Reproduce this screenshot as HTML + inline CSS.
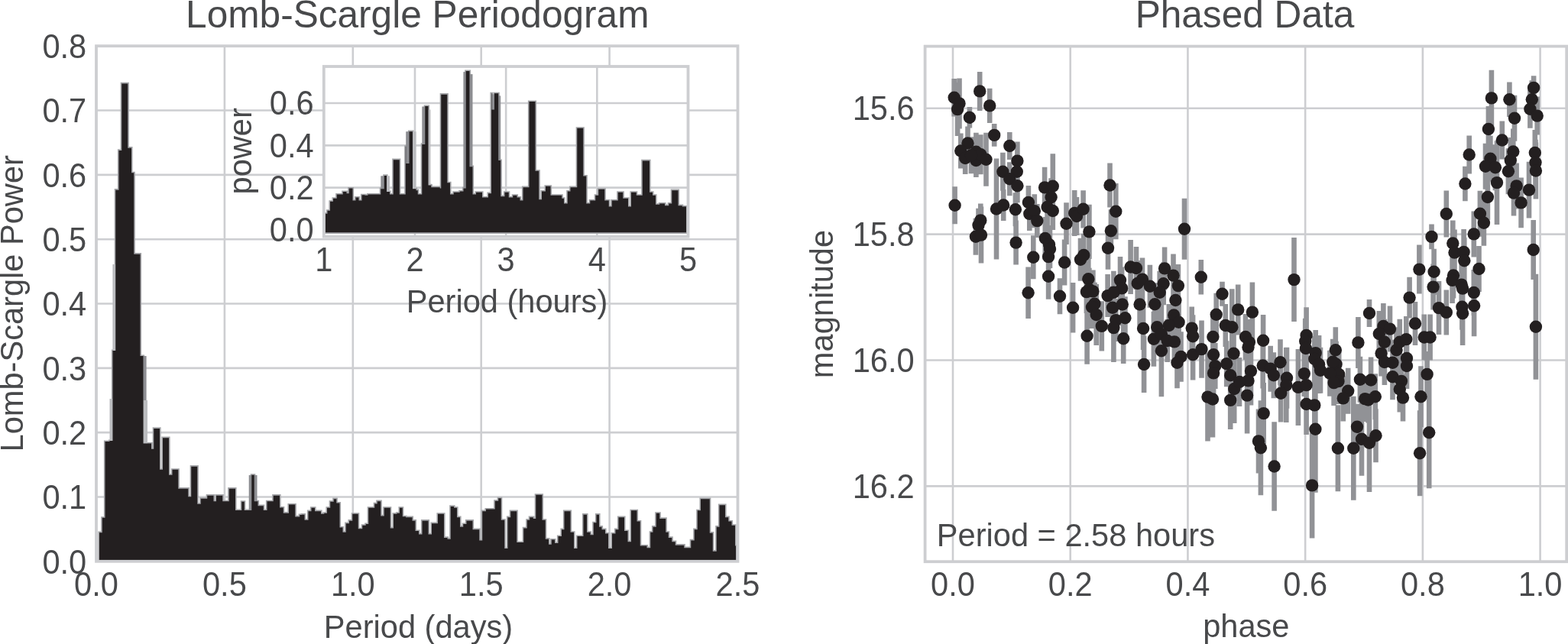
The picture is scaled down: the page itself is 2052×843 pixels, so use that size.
<!DOCTYPE html>
<html><head><meta charset="utf-8"><title>Lomb-Scargle Periodogram</title>
<style>html,body{margin:0;padding:0;background:#fff;overflow:hidden}svg{display:block}</style>
</head><body>
<svg width="2052" height="843" viewBox="0 0 2052 843">
<rect width="2052" height="843" fill="#fff"/>
<g font-family="&quot;Liberation Sans&quot;, Arial, Helvetica, sans-serif" fill="#48494b">
<path d="M293.90,60.20V734.80M461.80,60.20V734.80M629.70,60.20V734.80M797.60,60.20V734.80M126.00,650.47H965.50M126.00,566.15H965.50M126.00,481.83H965.50M126.00,397.50H965.50M126.00,313.18H965.50M126.00,228.85H965.50M126.00,144.53H965.50" stroke="#cdced1" stroke-width="2.6" fill="none"/>
<path d="M130.00,733.20L130.00,697.20L133.75,697.20L133.75,677.80L137.50,677.80L137.50,578.00L143.50,578.00L143.50,577.00L147.50,577.00L147.50,459.00L151.25,459.00L151.25,248.70L155.50,248.70L155.50,196.90L159.25,196.90L159.25,109.40L167.25,109.40L167.25,193.70L172.00,193.70L172.00,226.30L175.25,226.30L175.25,332.70L183.50,332.70L183.50,466.00L187.50,466.00L187.50,580.50L198.00,580.50L198.00,587.80L201.25,587.80L201.25,560.88L209.00,560.88L209.00,614.73L213.00,614.73L213.00,573.21L221.00,573.21L221.00,621.85L225.50,621.85L225.50,614.73L233.25,614.73L233.25,639.64L246.25,639.64L246.25,650.32L250.25,650.32L250.25,610.70L258.25,610.70L258.25,659.81L262.75,659.81L262.75,652.69L271.25,652.69L271.25,648.66L279.50,648.66L279.50,656.25L283.00,656.25L283.00,648.66L291.25,648.66L291.25,656.25L299.75,656.25L299.75,639.64L308.00,639.64L308.00,668.11L316.25,668.11L316.25,656.73L319.75,656.73L319.75,668.11L325.75,668.11L325.75,668.10L329.25,668.10L329.25,621.85L332.75,621.85L332.75,656.25L337.50,656.25L337.50,662.18L344.75,662.18L344.75,668.11L349.50,668.11L349.50,656.25L357.75,656.25L357.75,648.66L366.00,648.66L366.00,664.56L370.75,664.56L370.75,671.67L378.00,671.67L378.00,660.52L386.25,660.52L386.25,676.42L392.25,676.42L392.25,674.05L395.00,674.05L395.00,673.63L398.50,673.63L398.50,680.75L403.50,680.75L403.50,669.18L407.50,669.18L407.50,664.73L412.00,664.73L412.00,669.18L420.00,669.18L420.00,672.74L424.25,672.74L424.25,671.85L428.00,671.85L428.00,664.73L432.25,664.73L432.25,656.73L436.75,656.73L436.75,653.17L440.25,653.17L440.25,658.51L444.50,658.51L444.50,690.53L448.50,690.53L448.50,696.76L452.75,696.76L452.75,685.20L457.00,685.20L457.00,681.64L461.25,681.64L461.25,672.74L468.75,672.74L468.75,692.31L474.25,692.31L474.25,687.86L478.75,687.86L478.75,686.09L482.25,686.09L482.25,664.73L490.25,664.73L490.25,659.40L493.75,659.40L493.75,656.19L498.25,656.19L498.25,675.41L502.75,675.41L502.75,664.73L510.75,664.73L510.75,691.42L515.00,691.42L515.00,672.74L519.50,672.74L519.50,671.85L523.00,671.85L523.00,664.73L526.75,664.73L526.75,676.30L531.00,676.30L531.00,677.19L539.50,677.19L539.50,681.64L543.50,681.64L543.50,694.98L548.00,694.98L548.00,699.43L552.50,699.43L552.50,681.64L560.50,681.64L560.50,699.43L565.00,699.43L565.00,685.20L573.00,685.20L573.00,672.74L581.00,672.74L581.00,703.88L585.50,703.88L585.50,705.66L589.75,705.66L589.75,662.95L594.00,662.95L594.00,664.73L598.00,664.73L598.00,677.19L602.00,677.19L602.00,689.64L606.25,689.64L606.25,686.09L610.50,686.09L610.50,681.64L618.50,681.64L618.50,693.20L627.25,693.20L627.25,707.44L631.25,707.44L631.25,669.18L636.00,669.18L636.00,666.51L647.75,666.51L647.75,655.84L652.25,655.84L652.25,652.28L655.75,652.28L655.75,680.75L660.25,680.75L660.25,718.11L664.50,718.11L664.50,677.19L668.25,677.19L668.25,669.18L676.25,669.18L676.25,710.11L685.25,710.11L685.25,691.42L689.75,691.42L689.75,680.75L693.25,680.75L693.25,677.19L697.75,677.19L697.75,678.97L701.25,678.97L701.25,647.83L709.50,647.83L709.50,680.75L713.75,680.75L713.75,705.66L718.00,705.66L718.00,712.78L721.75,712.78L721.75,706.55L726.00,706.55L726.00,711.00L730.50,711.00L730.50,702.10L735.00,702.10L735.00,693.20L738.50,693.20L738.50,669.18L746.50,669.18L746.50,696.76L751.00,696.76L751.00,718.11L755.50,718.11L755.50,702.10L763.50,702.10L763.50,673.63L768.00,673.63L768.00,696.76L772.50,696.76L772.50,700.32L776.75,700.32L776.75,684.31L780.50,684.31L780.50,673.63L784.00,673.63L784.00,689.64L787.50,689.64L787.50,693.20L792.00,693.20L792.00,698.54L796.00,698.54L796.00,718.11L801.00,718.11L801.00,698.54L805.50,698.54L805.50,693.20L809.50,693.20L809.50,677.19L817.00,677.19L817.00,694.98L821.50,694.98L821.50,709.22L826.00,709.22L826.00,668.29L833.50,668.29L833.50,682.53L837.75,682.53L837.75,714.56L846.50,714.56L846.50,717.22L851.25,717.22L851.25,696.76L854.50,696.76L854.50,689.64L858.75,689.64L858.75,671.85L863.25,671.85L863.25,678.97L871.25,678.97L871.25,696.76L874.75,696.76L874.75,703.88L879.25,703.88L879.25,709.22L883.75,709.22L883.75,713.67L895.25,713.67L895.25,717.22L904.25,717.22L904.25,707.44L908.75,707.44L908.75,693.20L912.75,693.20L912.75,668.29L917.00,668.29L917.00,653.17L928.75,653.17L928.75,697.65L932.75,697.65L932.75,721.67L937.75,721.67L937.75,689.64L941.50,689.64L941.50,661.17L949.00,661.17L949.00,677.19L953.25,677.19L953.25,682.53L957.50,682.53L957.50,687.86L962.00,687.86L962.00,714.56L963.00,714.56L963.00,733.20Z" fill="none" stroke="#a4a5a8" stroke-width="3.2" stroke-linejoin="miter"/>
<rect x="325.70" y="622.00" width="3.60" height="46.10" fill="#8d8e92"/>
<rect x="332.90" y="622.00" width="3.60" height="34.20" fill="#8d8e92"/>
<rect x="147.40" y="346.00" width="3.90" height="113.00" fill="#bbbcbf"/>
<rect x="187.60" y="466.00" width="4.00" height="58.00" fill="#8d8e92"/>
<rect x="187.60" y="524.00" width="5.40" height="56.50" fill="#bbbcbf"/>
<rect x="143.50" y="522.00" width="3.90" height="55.00" fill="#bbbcbf"/>
<path d="M130.00,733.20L130.00,697.20L133.75,697.20L133.75,677.80L137.50,677.80L137.50,578.00L143.50,578.00L143.50,577.00L147.50,577.00L147.50,459.00L151.25,459.00L151.25,248.70L155.50,248.70L155.50,196.90L159.25,196.90L159.25,109.40L167.25,109.40L167.25,193.70L172.00,193.70L172.00,226.30L175.25,226.30L175.25,332.70L183.50,332.70L183.50,466.00L187.50,466.00L187.50,580.50L198.00,580.50L198.00,587.80L201.25,587.80L201.25,560.88L209.00,560.88L209.00,614.73L213.00,614.73L213.00,573.21L221.00,573.21L221.00,621.85L225.50,621.85L225.50,614.73L233.25,614.73L233.25,639.64L246.25,639.64L246.25,650.32L250.25,650.32L250.25,610.70L258.25,610.70L258.25,659.81L262.75,659.81L262.75,652.69L271.25,652.69L271.25,648.66L279.50,648.66L279.50,656.25L283.00,656.25L283.00,648.66L291.25,648.66L291.25,656.25L299.75,656.25L299.75,639.64L308.00,639.64L308.00,668.11L316.25,668.11L316.25,656.73L319.75,656.73L319.75,668.11L325.75,668.11L325.75,668.10L329.25,668.10L329.25,621.85L332.75,621.85L332.75,656.25L337.50,656.25L337.50,662.18L344.75,662.18L344.75,668.11L349.50,668.11L349.50,656.25L357.75,656.25L357.75,648.66L366.00,648.66L366.00,664.56L370.75,664.56L370.75,671.67L378.00,671.67L378.00,660.52L386.25,660.52L386.25,676.42L392.25,676.42L392.25,674.05L395.00,674.05L395.00,673.63L398.50,673.63L398.50,680.75L403.50,680.75L403.50,669.18L407.50,669.18L407.50,664.73L412.00,664.73L412.00,669.18L420.00,669.18L420.00,672.74L424.25,672.74L424.25,671.85L428.00,671.85L428.00,664.73L432.25,664.73L432.25,656.73L436.75,656.73L436.75,653.17L440.25,653.17L440.25,658.51L444.50,658.51L444.50,690.53L448.50,690.53L448.50,696.76L452.75,696.76L452.75,685.20L457.00,685.20L457.00,681.64L461.25,681.64L461.25,672.74L468.75,672.74L468.75,692.31L474.25,692.31L474.25,687.86L478.75,687.86L478.75,686.09L482.25,686.09L482.25,664.73L490.25,664.73L490.25,659.40L493.75,659.40L493.75,656.19L498.25,656.19L498.25,675.41L502.75,675.41L502.75,664.73L510.75,664.73L510.75,691.42L515.00,691.42L515.00,672.74L519.50,672.74L519.50,671.85L523.00,671.85L523.00,664.73L526.75,664.73L526.75,676.30L531.00,676.30L531.00,677.19L539.50,677.19L539.50,681.64L543.50,681.64L543.50,694.98L548.00,694.98L548.00,699.43L552.50,699.43L552.50,681.64L560.50,681.64L560.50,699.43L565.00,699.43L565.00,685.20L573.00,685.20L573.00,672.74L581.00,672.74L581.00,703.88L585.50,703.88L585.50,705.66L589.75,705.66L589.75,662.95L594.00,662.95L594.00,664.73L598.00,664.73L598.00,677.19L602.00,677.19L602.00,689.64L606.25,689.64L606.25,686.09L610.50,686.09L610.50,681.64L618.50,681.64L618.50,693.20L627.25,693.20L627.25,707.44L631.25,707.44L631.25,669.18L636.00,669.18L636.00,666.51L647.75,666.51L647.75,655.84L652.25,655.84L652.25,652.28L655.75,652.28L655.75,680.75L660.25,680.75L660.25,718.11L664.50,718.11L664.50,677.19L668.25,677.19L668.25,669.18L676.25,669.18L676.25,710.11L685.25,710.11L685.25,691.42L689.75,691.42L689.75,680.75L693.25,680.75L693.25,677.19L697.75,677.19L697.75,678.97L701.25,678.97L701.25,647.83L709.50,647.83L709.50,680.75L713.75,680.75L713.75,705.66L718.00,705.66L718.00,712.78L721.75,712.78L721.75,706.55L726.00,706.55L726.00,711.00L730.50,711.00L730.50,702.10L735.00,702.10L735.00,693.20L738.50,693.20L738.50,669.18L746.50,669.18L746.50,696.76L751.00,696.76L751.00,718.11L755.50,718.11L755.50,702.10L763.50,702.10L763.50,673.63L768.00,673.63L768.00,696.76L772.50,696.76L772.50,700.32L776.75,700.32L776.75,684.31L780.50,684.31L780.50,673.63L784.00,673.63L784.00,689.64L787.50,689.64L787.50,693.20L792.00,693.20L792.00,698.54L796.00,698.54L796.00,718.11L801.00,718.11L801.00,698.54L805.50,698.54L805.50,693.20L809.50,693.20L809.50,677.19L817.00,677.19L817.00,694.98L821.50,694.98L821.50,709.22L826.00,709.22L826.00,668.29L833.50,668.29L833.50,682.53L837.75,682.53L837.75,714.56L846.50,714.56L846.50,717.22L851.25,717.22L851.25,696.76L854.50,696.76L854.50,689.64L858.75,689.64L858.75,671.85L863.25,671.85L863.25,678.97L871.25,678.97L871.25,696.76L874.75,696.76L874.75,703.88L879.25,703.88L879.25,709.22L883.75,709.22L883.75,713.67L895.25,713.67L895.25,717.22L904.25,717.22L904.25,707.44L908.75,707.44L908.75,693.20L912.75,693.20L912.75,668.29L917.00,668.29L917.00,653.17L928.75,653.17L928.75,697.65L932.75,697.65L932.75,721.67L937.75,721.67L937.75,689.64L941.50,689.64L941.50,661.17L949.00,661.17L949.00,677.19L953.25,677.19L953.25,682.53L957.50,682.53L957.50,687.86L962.00,687.86L962.00,714.56L963.00,714.56L963.00,733.20Z" fill="#231f20"/>
<rect x="126.00" y="60.20" width="839.50" height="674.60" fill="none" stroke="#cdced1" stroke-width="3.8"/>
<text transform="translate(126.00 780.20) scale(1 1.05)" font-size="41.6" text-anchor="middle">0.0</text>
<text transform="translate(293.90 780.20) scale(1 1.05)" font-size="41.6" text-anchor="middle">0.5</text>
<text transform="translate(461.80 780.20) scale(1 1.05)" font-size="41.6" text-anchor="middle">1.0</text>
<text transform="translate(629.70 780.20) scale(1 1.05)" font-size="41.6" text-anchor="middle">1.5</text>
<text transform="translate(797.60 780.20) scale(1 1.05)" font-size="41.6" text-anchor="middle">2.0</text>
<text transform="translate(965.50 780.20) scale(1 1.05)" font-size="41.6" text-anchor="middle">2.5</text>
<text transform="translate(113.20 750.50) scale(1 1.05)" font-size="41.6" text-anchor="end">0.0</text>
<text transform="translate(113.20 666.17) scale(1 1.05)" font-size="41.6" text-anchor="end">0.1</text>
<text transform="translate(113.20 581.85) scale(1 1.05)" font-size="41.6" text-anchor="end">0.2</text>
<text transform="translate(113.20 497.53) scale(1 1.05)" font-size="41.6" text-anchor="end">0.3</text>
<text transform="translate(113.20 413.20) scale(1 1.05)" font-size="41.6" text-anchor="end">0.4</text>
<text transform="translate(113.20 328.88) scale(1 1.05)" font-size="41.6" text-anchor="end">0.5</text>
<text transform="translate(113.20 244.55) scale(1 1.05)" font-size="41.6" text-anchor="end">0.6</text>
<text transform="translate(113.20 160.23) scale(1 1.05)" font-size="41.6" text-anchor="end">0.7</text>
<text transform="translate(113.20 75.90) scale(1 1.05)" font-size="41.6" text-anchor="end">0.8</text>
<text x="547.50" y="834.60" font-size="41.6" text-anchor="middle">Period (days)</text>
<text x="30.20" y="397.30" font-size="41.6" text-anchor="middle" transform="rotate(-90 30.20 397.30)">Lomb-Scargle Power</text>
<text x="546.30" y="36.20" font-size="49.6" text-anchor="middle">Lomb-Scargle Periodogram</text>
<rect x="423.80" y="87.00" width="476.70" height="222.70" fill="#fff"/>
<path d="M542.98,87.00V309.70M662.15,87.00V309.70M781.33,87.00V309.70M423.80,245.67H900.50M423.80,190.33H900.50M423.80,135.00H900.50" stroke="#cdced1" stroke-width="2.6" fill="none"/>
<path d="M426.00,304.30L426.00,279.87L428.50,279.87L428.50,275.87L432.00,275.87L432.00,263.86L436.00,263.86L436.00,259.85L440.75,259.85L440.75,254.51L448.75,254.51L448.75,251.04L453.50,251.04L453.50,253.18L456.75,253.18L456.75,246.51L461.50,246.51L461.50,262.52L465.50,262.52L465.50,258.52L469.50,258.52L469.50,262.52L473.50,262.52L473.50,255.32L477.50,255.32L477.50,255.85L481.50,255.85L481.50,254.51L498.25,254.51L498.25,247.20L502.75,247.20L502.75,229.90L506.00,229.90L506.00,251.10L510.00,251.10L510.00,254.51L514.75,254.51L514.75,209.13L522.75,209.13L522.75,254.51L530.75,254.51L530.75,191.78L531.25,191.78L531.25,214.00L535.50,214.00L535.50,172.20L540.00,172.20L540.00,247.20L544.50,247.20L544.50,249.18L546.75,249.18L546.75,254.51L552.25,254.51L552.25,188.90L556.25,188.90L556.25,139.10L560.50,139.10L560.50,242.40L563.50,242.40L563.50,242.50L564.25,242.50L564.25,245.17L575.75,245.17L575.75,246.51L577.25,246.51L577.25,123.71L585.25,123.71L585.25,239.30L589.00,239.30L589.00,254.51L593.75,254.51L593.75,251.84L601.75,251.84L601.75,250.51L606.50,250.51L606.50,246.40L609.75,246.40L609.75,93.10L614.50,93.10L614.50,218.20L618.50,218.20L618.50,254.51L623.00,254.51L623.00,251.84L631.00,251.84L631.00,258.52L639.00,258.52L639.00,253.18L643.00,253.18L643.00,122.37L643.50,122.37L643.50,143.50L647.00,143.50L647.00,122.30L652.25,122.30L652.25,210.10L655.25,210.10L655.25,257.18L660.50,257.18L660.50,251.84L665.75,251.84L665.75,258.52L671.25,258.52L671.25,255.85L676.50,255.85L676.50,258.52L680.50,258.52L680.50,262.52L684.50,262.52L684.50,245.17L692.50,245.17L692.50,133.05L700.50,133.05L700.50,223.81L705.25,223.81L705.25,261.19L709.00,261.19L709.00,250.51L714.00,250.51L714.00,243.84L720.50,243.84L720.50,255.85L735.25,255.85L735.25,259.85L738.00,259.85L738.00,266.53L742.75,266.53L742.75,250.51L746.50,250.51L746.50,245.17L755.25,245.17L755.25,167.75L763.25,167.75L763.25,230.49L767.25,230.49L767.25,266.53L772.25,266.53L772.25,262.52L779.25,262.52L779.25,255.85L783.25,255.85L783.25,247.84L791.25,247.84L791.25,262.52L796.75,262.52L796.75,270.53L800.75,270.53L800.75,262.52L808.75,262.52L808.75,251.84L815.25,251.84L815.25,259.85L822.00,259.85L822.00,270.53L826.00,270.53L826.00,251.84L832.75,251.84L832.75,255.85L840.75,255.85L840.75,210.47L850.00,210.47L850.00,251.84L854.00,251.84L854.00,255.85L858.00,255.85L858.00,267.86L863.25,267.86L863.25,266.53L870.00,266.53L870.00,269.20L875.25,269.20L875.25,266.53L879.25,266.53L879.25,249.18L887.50,249.18L887.50,269.20L892.75,269.20L892.75,270.53L898.00,270.53L898.00,304.30Z" fill="none" stroke="#a4a5a8" stroke-width="3.2" stroke-linejoin="miter"/>
<rect x="498.30" y="230.30" width="4.50" height="16.90" fill="#8d8e92"/>
<rect x="506.10" y="230.30" width="3.90" height="20.80" fill="#bbbcbf"/>
<rect x="531.20" y="172.20" width="4.30" height="41.80" fill="#8d8e92"/>
<rect x="540.00" y="172.20" width="4.60" height="75.00" fill="#bbbcbf"/>
<rect x="552.30" y="139.50" width="4.00" height="49.40" fill="#8d8e92"/>
<rect x="560.40" y="143.50" width="3.00" height="98.90" fill="#bbbcbf"/>
<rect x="606.40" y="94.10" width="3.40" height="152.30" fill="#8d8e92"/>
<rect x="614.40" y="97.10" width="4.10" height="121.10" fill="#8d8e92"/>
<rect x="643.50" y="123.30" width="3.60" height="20.20" fill="#8d8e92"/>
<rect x="652.20" y="125.40" width="3.00" height="84.70" fill="#8d8e92"/>
<path d="M426.00,304.30L426.00,279.87L428.50,279.87L428.50,275.87L432.00,275.87L432.00,263.86L436.00,263.86L436.00,259.85L440.75,259.85L440.75,254.51L448.75,254.51L448.75,251.04L453.50,251.04L453.50,253.18L456.75,253.18L456.75,246.51L461.50,246.51L461.50,262.52L465.50,262.52L465.50,258.52L469.50,258.52L469.50,262.52L473.50,262.52L473.50,255.32L477.50,255.32L477.50,255.85L481.50,255.85L481.50,254.51L498.25,254.51L498.25,247.20L502.75,247.20L502.75,229.90L506.00,229.90L506.00,251.10L510.00,251.10L510.00,254.51L514.75,254.51L514.75,209.13L522.75,209.13L522.75,254.51L530.75,254.51L530.75,191.78L531.25,191.78L531.25,214.00L535.50,214.00L535.50,172.20L540.00,172.20L540.00,247.20L544.50,247.20L544.50,249.18L546.75,249.18L546.75,254.51L552.25,254.51L552.25,188.90L556.25,188.90L556.25,139.10L560.50,139.10L560.50,242.40L563.50,242.40L563.50,242.50L564.25,242.50L564.25,245.17L575.75,245.17L575.75,246.51L577.25,246.51L577.25,123.71L585.25,123.71L585.25,239.30L589.00,239.30L589.00,254.51L593.75,254.51L593.75,251.84L601.75,251.84L601.75,250.51L606.50,250.51L606.50,246.40L609.75,246.40L609.75,93.10L614.50,93.10L614.50,218.20L618.50,218.20L618.50,254.51L623.00,254.51L623.00,251.84L631.00,251.84L631.00,258.52L639.00,258.52L639.00,253.18L643.00,253.18L643.00,122.37L643.50,122.37L643.50,143.50L647.00,143.50L647.00,122.30L652.25,122.30L652.25,210.10L655.25,210.10L655.25,257.18L660.50,257.18L660.50,251.84L665.75,251.84L665.75,258.52L671.25,258.52L671.25,255.85L676.50,255.85L676.50,258.52L680.50,258.52L680.50,262.52L684.50,262.52L684.50,245.17L692.50,245.17L692.50,133.05L700.50,133.05L700.50,223.81L705.25,223.81L705.25,261.19L709.00,261.19L709.00,250.51L714.00,250.51L714.00,243.84L720.50,243.84L720.50,255.85L735.25,255.85L735.25,259.85L738.00,259.85L738.00,266.53L742.75,266.53L742.75,250.51L746.50,250.51L746.50,245.17L755.25,245.17L755.25,167.75L763.25,167.75L763.25,230.49L767.25,230.49L767.25,266.53L772.25,266.53L772.25,262.52L779.25,262.52L779.25,255.85L783.25,255.85L783.25,247.84L791.25,247.84L791.25,262.52L796.75,262.52L796.75,270.53L800.75,270.53L800.75,262.52L808.75,262.52L808.75,251.84L815.25,251.84L815.25,259.85L822.00,259.85L822.00,270.53L826.00,270.53L826.00,251.84L832.75,251.84L832.75,255.85L840.75,255.85L840.75,210.47L850.00,210.47L850.00,251.84L854.00,251.84L854.00,255.85L858.00,255.85L858.00,267.86L863.25,267.86L863.25,266.53L870.00,266.53L870.00,269.20L875.25,269.20L875.25,266.53L879.25,266.53L879.25,249.18L887.50,249.18L887.50,269.20L892.75,269.20L892.75,270.53L898.00,270.53L898.00,304.30Z" fill="#231f20"/>
<rect x="423.80" y="87.00" width="476.70" height="222.70" fill="none" stroke="#cdced1" stroke-width="3.8"/>
<text transform="translate(423.80 355.40) scale(1 1.05)" font-size="41.6" text-anchor="middle">1</text>
<text transform="translate(542.98 355.40) scale(1 1.05)" font-size="41.6" text-anchor="middle">2</text>
<text transform="translate(662.15 355.40) scale(1 1.05)" font-size="41.6" text-anchor="middle">3</text>
<text transform="translate(781.33 355.40) scale(1 1.05)" font-size="41.6" text-anchor="middle">4</text>
<text transform="translate(900.50 355.40) scale(1 1.05)" font-size="41.6" text-anchor="middle">5</text>
<text transform="translate(410.60 316.40) scale(1 1.05)" font-size="41.6" text-anchor="end">0.0</text>
<text transform="translate(410.60 261.07) scale(1 1.05)" font-size="41.6" text-anchor="end">0.2</text>
<text transform="translate(410.60 205.73) scale(1 1.05)" font-size="41.6" text-anchor="end">0.4</text>
<text transform="translate(410.60 150.40) scale(1 1.05)" font-size="41.6" text-anchor="end">0.6</text>
<text x="663.50" y="409.30" font-size="41.6" text-anchor="middle">Period (hours)</text>
<text x="329.40" y="197.80" font-size="41.6" text-anchor="middle" transform="rotate(-90 329.40 197.80)">power</text>
<path d="M1247.00,60.60V735.20M1400.72,60.60V735.20M1554.44,60.60V735.20M1708.16,60.60V735.20M1861.88,60.60V735.20M2015.60,60.60V735.20M1210.60,141.80H2050.20M1210.60,306.67H2050.20M1210.60,471.53H2050.20M1210.60,636.40H2050.20" stroke="#cdced1" stroke-width="2.6" fill="none"/>
<path d="M1248.7,103.0V152.4M1255.5,102.4V168.4M1253.1,108.1V178.1M1282.2,93.9V144.9M1295.2,115.8V161.0M1268.9,140.1V167.5M1301.2,162.1V191.7M1266.5,165.5V209.5M1257.3,174.5V220.5M1263.2,186.0V228.0M1277.4,173.7V223.7M1277.4,188.0V232.0M1283.4,176.3V228.3M1290.5,173.8V243.8M1321.3,173.0V209.0M1331.4,185.6V235.6M1312.4,199.8V249.8M1330.8,202.8V246.8M1321.3,212.3V256.3M1331.4,221.2V265.2M1249.6,244.2V293.2M1283.3,266.4V310.4M1280.5,272.8V316.8M1276.9,285.8V333.8M1284.0,270.6V344.6M1304.0,207.5V339.5M1313.2,247.9V289.1M1328.9,252.2V296.2M1329.6,288.6V346.6M1345.9,243.0V287.0M1347.3,257.9V301.9M1353.8,254.3V298.3M1357.3,267.1V311.1M1352.3,308.3V365.3M1345.6,349.5V416.9M1367.1,218.8V272.0M1377.8,201.3V286.1M1375.6,233.2V283.2M1370.6,246.0V296.0M1377.8,251.0V301.0M1452.5,213.5V271.5M1460.3,240.1V313.3M1406.2,249.0V309.0M1409.0,258.0V308.0M1417.6,249.2V298.4M1395.5,265.3V320.1M1425.4,267.8V339.0M1453.9,274.3V330.3M1450.0,296.8V352.8M1367.8,284.0V340.0M1373.0,295.0V345.0M1374.0,301.0V351.0M1372.1,308.1V364.1M1393.1,313.5V373.5M1414.0,311.7V367.7M1418.3,306.0V362.0M1372.1,331.7V391.7M1424.3,337.3V393.3M1425.4,350.8V406.8M1466.0,336.0V397.4M1468.1,349.4V405.4M1479.6,314.1V384.9M1487.0,323.0V379.0M1488.7,341.0V401.0M1387.0,364.3V411.3M1404.1,369.9V435.5M1421.9,354.1V410.1M1430.4,353.4V409.4M1432.5,369.8V425.8M1429.0,374.0V430.0M1434.7,372.0V452.0M1441.8,394.2V459.6M1422.6,402.7V476.7M1449.6,359.1V415.1M1457.4,354.8V410.8M1456.0,374.7V430.7M1468.8,370.5V426.5M1460.3,391.1V447.1M1472.4,388.3V444.3M1457.4,384.1V474.1M1470.2,410.6V476.0M1550.0,259.7V339.7M1495.0,337.6V393.6M1504.9,346.8V402.8M1524.1,323.4V379.4M1535.5,332.6V388.6M1522.7,343.3V399.3M1517.7,354.7V410.7M1541.9,346.1V402.1M1571.8,339.9V385.5M1599.5,368.8V400.8M1491.6,370.5V426.5M1511.3,370.3V426.3M1538.4,365.0V421.0M1536.2,384.5V440.5M1542.6,393.8V449.8M1529.8,398.0V454.0M1514.2,400.2V456.2M1496.1,402.0V458.0M1509.9,407.8V479.8M1519.9,409.4V465.4M1527.7,418.0V474.0M1536.9,419.4V475.4M1559.7,401.6V457.6M1561.1,412.3V468.3M1587.4,413.0V469.0M1591.7,383.8V439.8M1603.8,398.0V454.0M1612.3,378.2V478.2M1620.2,372.4V438.4M1497.1,440.0V514.0M1519.9,399.2V519.2M1545.5,434.3V499.7M1540.5,441.3V508.3M1561.1,430.8V497.6M1572.5,419.4V494.8M1588.1,434.2V494.2M1590.3,449.1V509.1M1588.1,458.4V518.4M1605.2,446.3V506.3M1614.5,432.7V492.7M1610.2,461.2V521.2M1615.2,464.0V554.0M1580.5,461.6V577.6M1587.0,472.5V572.5M1610.2,485.9V561.9M1693.5,311.1V421.1M1638.9,369.6V447.6M1630.0,411.0V471.0M1634.9,418.1V478.1M1633.5,424.5V484.5M1653.1,412.1V479.3M1709.6,402.2V475.6M1708.2,416.7V476.7M1708.9,426.0V486.0M1637.0,440.6V530.6M1633.5,468.4V528.4M1622.0,468.0V532.0M1632.1,467.6V567.6M1652.7,448.5V508.5M1662.7,452.7V512.7M1666.9,461.3V521.3M1675.5,444.2V504.2M1684.0,454.8V534.8M1683.3,455.1V553.1M1676.2,477.1V552.5M1698.9,456.9V556.9M1706.8,459.1V519.1M1709.6,474.1V534.1M1721.7,432.1V492.1M1720.3,439.9V499.9M1726.1,439.0V515.0M1709.6,489.0V569.0M1720.3,490.4V570.4M1653.7,501.1V581.1M1721.4,478.7V644.7M1647.0,535.4V619.4M1649.9,524.3V648.3M1667.6,552.2V668.8M1717.1,566.2V704.6M1750.9,530.2V643.2M1873.5,293.6V326.2M1857.4,320.6V384.6M1876.6,325.7V385.7M1875.6,345.6V405.6M1844.6,362.8V416.4M1792.0,392.0V428.0M1777.4,414.9V481.9M1747.8,428.3V488.3M1748.6,446.8V506.8M1752.2,460.0V520.0M1751.5,469.1V529.1M1810.4,397.0V457.0M1819.0,400.6V460.6M1804.8,407.0V467.0M1811.9,417.7V477.7M1807.6,432.6V492.6M1811.9,444.0V504.0M1822.5,444.7V504.7M1827.5,428.3V488.3M1831.8,417.7V477.7M1840.3,414.1V474.1M1841.0,439.0V499.0M1841.0,449.0V509.0M1822.5,463.2V523.2M1833.9,468.9V528.9M1831.8,479.5V539.5M1852.0,395.1V451.9M1863.8,411.5V471.5M1871.6,411.5V471.5M1867.6,459.9V519.9M1779.9,466.7V526.7M1794.1,467.5V527.5M1883.0,368.1V438.1M1764.2,481.7V541.7M1757.8,491.4V551.4M1786.3,492.1V552.1M1790.5,493.5V553.5M1799.8,489.2V549.2M1836.0,489.6V551.6M1859.5,479.2V559.2M1776.0,528.8V588.8M1782.0,526.7V622.7M1792.0,515.3V644.1M1800.5,535.2V605.2M1771.3,518.8V654.8M1870.2,493.2V639.2M1858.1,537.2V649.2M1951.9,91.8V165.0M1975.4,107.5V153.1M2007.1,99.2V130.6M2004.8,105.3V155.3M2002.4,117.7V167.7M2011.7,126.6V176.6M1982.0,124.8V184.8M1947.9,139.0V199.0M1965.8,158.5V208.5M1922.7,177.5V227.5M1917.4,217.7V263.3M1892.8,249.5V310.5M1950.4,177.8V237.8M1944.0,187.8V247.8M1956.9,189.2V249.2M1980.3,168.5V228.5M1976.8,179.9V239.9M1973.9,194.2V254.2M1959.0,184.3V293.9M1946.9,228.0V288.0M1936.9,249.7V309.7M1941.9,261.8V321.8M1984.6,213.4V273.4M1981.0,222.6V282.6M1990.6,232.6V298.2M2001.0,211.8V285.4M2008.8,170.0V230.0M2009.5,182.8V242.8M2009.9,186.5V260.5M1928.8,276.4V336.4M1901.3,288.5V348.5M1903.5,300.6V360.6M1915.6,299.9V359.9M1916.3,311.3V371.3M1935.5,322.0V382.0M2006.7,288.0V366.0M1902.0,330.5V390.5M1900.6,336.9V396.9M1912.7,342.6V402.6M1914.1,347.6V407.6M1928.8,353.0V413.0M1892.8,379.4V438.4M1913.4,371.8V431.8M1929.1,360.3V440.3M1914.1,368.6V452.0M2009.9,358.8V496.8M1728.0,454.8V514.8M1744.3,443.7V503.7M1740.4,458.7V518.7M1745.6,471.1V531.1M1271.0,179.3V227.3" stroke="#919296" stroke-width="6.6" fill="none"/>
<g fill="#231f20">
<circle cx="1248.7" cy="127.7" r="8.2"/>
<circle cx="1255.5" cy="135.4" r="8.2"/>
<circle cx="1253.1" cy="143.1" r="8.2"/>
<circle cx="1282.2" cy="119.4" r="8.2"/>
<circle cx="1295.2" cy="138.4" r="8.2"/>
<circle cx="1268.9" cy="153.8" r="8.2"/>
<circle cx="1301.2" cy="176.9" r="8.2"/>
<circle cx="1266.5" cy="187.5" r="8.2"/>
<circle cx="1257.3" cy="197.5" r="8.2"/>
<circle cx="1263.2" cy="207.0" r="8.2"/>
<circle cx="1277.4" cy="198.7" r="8.2"/>
<circle cx="1277.4" cy="210.0" r="8.2"/>
<circle cx="1283.4" cy="202.3" r="8.2"/>
<circle cx="1290.5" cy="208.8" r="8.2"/>
<circle cx="1321.3" cy="191.0" r="8.2"/>
<circle cx="1331.4" cy="210.6" r="8.2"/>
<circle cx="1312.4" cy="224.8" r="8.2"/>
<circle cx="1330.8" cy="224.8" r="8.2"/>
<circle cx="1321.3" cy="234.3" r="8.2"/>
<circle cx="1331.4" cy="243.2" r="8.2"/>
<circle cx="1249.6" cy="268.7" r="8.2"/>
<circle cx="1283.3" cy="288.4" r="8.2"/>
<circle cx="1280.5" cy="294.8" r="8.2"/>
<circle cx="1276.9" cy="309.8" r="8.2"/>
<circle cx="1284.0" cy="307.6" r="8.2"/>
<circle cx="1304.0" cy="273.5" r="8.2"/>
<circle cx="1313.2" cy="268.5" r="8.2"/>
<circle cx="1328.9" cy="274.2" r="8.2"/>
<circle cx="1329.6" cy="317.6" r="8.2"/>
<circle cx="1345.9" cy="265.0" r="8.2"/>
<circle cx="1347.3" cy="279.9" r="8.2"/>
<circle cx="1353.8" cy="276.3" r="8.2"/>
<circle cx="1357.3" cy="289.1" r="8.2"/>
<circle cx="1352.3" cy="336.8" r="8.2"/>
<circle cx="1345.6" cy="383.2" r="8.2"/>
<circle cx="1367.1" cy="245.4" r="8.2"/>
<circle cx="1377.8" cy="243.7" r="8.2"/>
<circle cx="1375.6" cy="258.2" r="8.2"/>
<circle cx="1370.6" cy="271.0" r="8.2"/>
<circle cx="1377.8" cy="276.0" r="8.2"/>
<circle cx="1452.5" cy="242.5" r="8.2"/>
<circle cx="1460.3" cy="276.7" r="8.2"/>
<circle cx="1406.2" cy="279.0" r="8.2"/>
<circle cx="1409.0" cy="283.0" r="8.2"/>
<circle cx="1417.6" cy="273.8" r="8.2"/>
<circle cx="1395.5" cy="292.7" r="8.2"/>
<circle cx="1425.4" cy="303.4" r="8.2"/>
<circle cx="1453.9" cy="302.3" r="8.2"/>
<circle cx="1450.0" cy="324.8" r="8.2"/>
<circle cx="1367.8" cy="312.0" r="8.2"/>
<circle cx="1373.0" cy="320.0" r="8.2"/>
<circle cx="1374.0" cy="326.0" r="8.2"/>
<circle cx="1372.1" cy="336.1" r="8.2"/>
<circle cx="1393.1" cy="343.5" r="8.2"/>
<circle cx="1414.0" cy="339.7" r="8.2"/>
<circle cx="1418.3" cy="334.0" r="8.2"/>
<circle cx="1372.1" cy="361.7" r="8.2"/>
<circle cx="1424.3" cy="365.3" r="8.2"/>
<circle cx="1425.4" cy="378.8" r="8.2"/>
<circle cx="1466.0" cy="366.7" r="8.2"/>
<circle cx="1468.1" cy="377.4" r="8.2"/>
<circle cx="1479.6" cy="349.5" r="8.2"/>
<circle cx="1487.0" cy="351.0" r="8.2"/>
<circle cx="1488.7" cy="371.0" r="8.2"/>
<circle cx="1387.0" cy="387.8" r="8.2"/>
<circle cx="1404.1" cy="402.7" r="8.2"/>
<circle cx="1421.9" cy="382.1" r="8.2"/>
<circle cx="1430.4" cy="381.4" r="8.2"/>
<circle cx="1432.5" cy="397.8" r="8.2"/>
<circle cx="1429.0" cy="402.0" r="8.2"/>
<circle cx="1434.7" cy="412.0" r="8.2"/>
<circle cx="1441.8" cy="426.9" r="8.2"/>
<circle cx="1422.6" cy="439.7" r="8.2"/>
<circle cx="1449.6" cy="387.1" r="8.2"/>
<circle cx="1457.4" cy="382.8" r="8.2"/>
<circle cx="1456.0" cy="402.7" r="8.2"/>
<circle cx="1468.8" cy="398.5" r="8.2"/>
<circle cx="1460.3" cy="419.1" r="8.2"/>
<circle cx="1472.4" cy="416.3" r="8.2"/>
<circle cx="1457.4" cy="429.1" r="8.2"/>
<circle cx="1470.2" cy="443.3" r="8.2"/>
<circle cx="1550.0" cy="299.7" r="8.2"/>
<circle cx="1495.0" cy="365.6" r="8.2"/>
<circle cx="1504.9" cy="374.8" r="8.2"/>
<circle cx="1524.1" cy="351.4" r="8.2"/>
<circle cx="1535.5" cy="360.6" r="8.2"/>
<circle cx="1522.7" cy="371.3" r="8.2"/>
<circle cx="1517.7" cy="382.7" r="8.2"/>
<circle cx="1541.9" cy="374.1" r="8.2"/>
<circle cx="1571.8" cy="362.7" r="8.2"/>
<circle cx="1599.5" cy="384.8" r="8.2"/>
<circle cx="1491.6" cy="398.5" r="8.2"/>
<circle cx="1511.3" cy="398.3" r="8.2"/>
<circle cx="1538.4" cy="393.0" r="8.2"/>
<circle cx="1536.2" cy="412.5" r="8.2"/>
<circle cx="1542.6" cy="421.8" r="8.2"/>
<circle cx="1529.8" cy="426.0" r="8.2"/>
<circle cx="1514.2" cy="428.2" r="8.2"/>
<circle cx="1496.1" cy="430.0" r="8.2"/>
<circle cx="1509.9" cy="443.8" r="8.2"/>
<circle cx="1519.9" cy="437.4" r="8.2"/>
<circle cx="1527.7" cy="446.0" r="8.2"/>
<circle cx="1536.9" cy="447.4" r="8.2"/>
<circle cx="1559.7" cy="429.6" r="8.2"/>
<circle cx="1561.1" cy="440.3" r="8.2"/>
<circle cx="1587.4" cy="441.0" r="8.2"/>
<circle cx="1591.7" cy="411.8" r="8.2"/>
<circle cx="1603.8" cy="426.0" r="8.2"/>
<circle cx="1612.3" cy="428.2" r="8.2"/>
<circle cx="1620.2" cy="405.4" r="8.2"/>
<circle cx="1497.1" cy="477.0" r="8.2"/>
<circle cx="1519.9" cy="459.2" r="8.2"/>
<circle cx="1545.5" cy="467.0" r="8.2"/>
<circle cx="1540.5" cy="474.8" r="8.2"/>
<circle cx="1561.1" cy="464.2" r="8.2"/>
<circle cx="1572.5" cy="457.1" r="8.2"/>
<circle cx="1588.1" cy="464.2" r="8.2"/>
<circle cx="1590.3" cy="479.1" r="8.2"/>
<circle cx="1588.1" cy="488.4" r="8.2"/>
<circle cx="1605.2" cy="476.3" r="8.2"/>
<circle cx="1614.5" cy="462.7" r="8.2"/>
<circle cx="1610.2" cy="491.2" r="8.2"/>
<circle cx="1615.2" cy="509.0" r="8.2"/>
<circle cx="1580.5" cy="519.6" r="8.2"/>
<circle cx="1587.0" cy="522.5" r="8.2"/>
<circle cx="1610.2" cy="523.9" r="8.2"/>
<circle cx="1693.5" cy="366.1" r="8.2"/>
<circle cx="1638.9" cy="408.6" r="8.2"/>
<circle cx="1630.0" cy="441.0" r="8.2"/>
<circle cx="1634.9" cy="448.1" r="8.2"/>
<circle cx="1633.5" cy="454.5" r="8.2"/>
<circle cx="1653.1" cy="445.7" r="8.2"/>
<circle cx="1709.6" cy="438.9" r="8.2"/>
<circle cx="1708.2" cy="446.7" r="8.2"/>
<circle cx="1708.9" cy="456.0" r="8.2"/>
<circle cx="1637.0" cy="485.6" r="8.2"/>
<circle cx="1633.5" cy="498.4" r="8.2"/>
<circle cx="1622.0" cy="500.0" r="8.2"/>
<circle cx="1632.1" cy="517.6" r="8.2"/>
<circle cx="1652.7" cy="478.5" r="8.2"/>
<circle cx="1662.7" cy="482.7" r="8.2"/>
<circle cx="1666.9" cy="491.3" r="8.2"/>
<circle cx="1675.5" cy="474.2" r="8.2"/>
<circle cx="1684.0" cy="494.8" r="8.2"/>
<circle cx="1683.3" cy="504.1" r="8.2"/>
<circle cx="1676.2" cy="514.8" r="8.2"/>
<circle cx="1698.9" cy="506.9" r="8.2"/>
<circle cx="1706.8" cy="489.1" r="8.2"/>
<circle cx="1709.6" cy="504.1" r="8.2"/>
<circle cx="1721.7" cy="462.1" r="8.2"/>
<circle cx="1720.3" cy="469.9" r="8.2"/>
<circle cx="1726.1" cy="477.0" r="8.2"/>
<circle cx="1709.6" cy="529.0" r="8.2"/>
<circle cx="1720.3" cy="530.4" r="8.2"/>
<circle cx="1653.7" cy="541.1" r="8.2"/>
<circle cx="1721.4" cy="561.7" r="8.2"/>
<circle cx="1647.0" cy="577.4" r="8.2"/>
<circle cx="1649.9" cy="586.3" r="8.2"/>
<circle cx="1667.6" cy="610.5" r="8.2"/>
<circle cx="1717.1" cy="635.4" r="8.2"/>
<circle cx="1750.9" cy="586.7" r="8.2"/>
<circle cx="1873.5" cy="309.9" r="8.2"/>
<circle cx="1857.4" cy="352.6" r="8.2"/>
<circle cx="1876.6" cy="355.7" r="8.2"/>
<circle cx="1875.6" cy="375.6" r="8.2"/>
<circle cx="1844.6" cy="389.6" r="8.2"/>
<circle cx="1792.0" cy="410.0" r="8.2"/>
<circle cx="1777.4" cy="448.4" r="8.2"/>
<circle cx="1747.8" cy="458.3" r="8.2"/>
<circle cx="1748.6" cy="476.8" r="8.2"/>
<circle cx="1752.2" cy="490.0" r="8.2"/>
<circle cx="1751.5" cy="499.1" r="8.2"/>
<circle cx="1810.4" cy="427.0" r="8.2"/>
<circle cx="1819.0" cy="430.6" r="8.2"/>
<circle cx="1804.8" cy="437.0" r="8.2"/>
<circle cx="1811.9" cy="447.7" r="8.2"/>
<circle cx="1807.6" cy="462.6" r="8.2"/>
<circle cx="1811.9" cy="474.0" r="8.2"/>
<circle cx="1822.5" cy="474.7" r="8.2"/>
<circle cx="1827.5" cy="458.3" r="8.2"/>
<circle cx="1831.8" cy="447.7" r="8.2"/>
<circle cx="1840.3" cy="444.1" r="8.2"/>
<circle cx="1841.0" cy="469.0" r="8.2"/>
<circle cx="1841.0" cy="479.0" r="8.2"/>
<circle cx="1822.5" cy="493.2" r="8.2"/>
<circle cx="1833.9" cy="498.9" r="8.2"/>
<circle cx="1831.8" cy="509.5" r="8.2"/>
<circle cx="1852.0" cy="423.5" r="8.2"/>
<circle cx="1863.8" cy="441.5" r="8.2"/>
<circle cx="1871.6" cy="441.5" r="8.2"/>
<circle cx="1867.6" cy="489.9" r="8.2"/>
<circle cx="1779.9" cy="496.7" r="8.2"/>
<circle cx="1794.1" cy="497.5" r="8.2"/>
<circle cx="1883.0" cy="403.1" r="8.2"/>
<circle cx="1764.2" cy="511.7" r="8.2"/>
<circle cx="1757.8" cy="521.4" r="8.2"/>
<circle cx="1786.3" cy="522.1" r="8.2"/>
<circle cx="1790.5" cy="523.5" r="8.2"/>
<circle cx="1799.8" cy="519.2" r="8.2"/>
<circle cx="1836.0" cy="520.6" r="8.2"/>
<circle cx="1859.5" cy="519.2" r="8.2"/>
<circle cx="1776.0" cy="558.8" r="8.2"/>
<circle cx="1782.0" cy="574.7" r="8.2"/>
<circle cx="1792.0" cy="579.7" r="8.2"/>
<circle cx="1800.5" cy="570.2" r="8.2"/>
<circle cx="1771.3" cy="586.8" r="8.2"/>
<circle cx="1870.2" cy="566.2" r="8.2"/>
<circle cx="1858.1" cy="593.2" r="8.2"/>
<circle cx="1951.9" cy="128.4" r="8.2"/>
<circle cx="1975.4" cy="130.3" r="8.2"/>
<circle cx="2007.1" cy="114.9" r="8.2"/>
<circle cx="2004.8" cy="130.3" r="8.2"/>
<circle cx="2002.4" cy="142.7" r="8.2"/>
<circle cx="2011.7" cy="151.6" r="8.2"/>
<circle cx="1982.0" cy="154.8" r="8.2"/>
<circle cx="1947.9" cy="169.0" r="8.2"/>
<circle cx="1965.8" cy="183.5" r="8.2"/>
<circle cx="1922.7" cy="202.5" r="8.2"/>
<circle cx="1917.4" cy="240.5" r="8.2"/>
<circle cx="1892.8" cy="280.0" r="8.2"/>
<circle cx="1950.4" cy="207.8" r="8.2"/>
<circle cx="1944.0" cy="217.8" r="8.2"/>
<circle cx="1956.9" cy="219.2" r="8.2"/>
<circle cx="1980.3" cy="198.5" r="8.2"/>
<circle cx="1976.8" cy="209.9" r="8.2"/>
<circle cx="1973.9" cy="224.2" r="8.2"/>
<circle cx="1959.0" cy="239.1" r="8.2"/>
<circle cx="1946.9" cy="258.0" r="8.2"/>
<circle cx="1936.9" cy="279.7" r="8.2"/>
<circle cx="1941.9" cy="291.8" r="8.2"/>
<circle cx="1984.6" cy="243.4" r="8.2"/>
<circle cx="1981.0" cy="252.6" r="8.2"/>
<circle cx="1990.6" cy="265.4" r="8.2"/>
<circle cx="2001.0" cy="248.6" r="8.2"/>
<circle cx="2008.8" cy="200.0" r="8.2"/>
<circle cx="2009.5" cy="212.8" r="8.2"/>
<circle cx="2009.9" cy="223.5" r="8.2"/>
<circle cx="1928.8" cy="306.4" r="8.2"/>
<circle cx="1901.3" cy="318.5" r="8.2"/>
<circle cx="1903.5" cy="330.6" r="8.2"/>
<circle cx="1915.6" cy="329.9" r="8.2"/>
<circle cx="1916.3" cy="341.3" r="8.2"/>
<circle cx="1935.5" cy="352.0" r="8.2"/>
<circle cx="2006.7" cy="327.0" r="8.2"/>
<circle cx="1902.0" cy="360.5" r="8.2"/>
<circle cx="1900.6" cy="366.9" r="8.2"/>
<circle cx="1912.7" cy="372.6" r="8.2"/>
<circle cx="1914.1" cy="377.6" r="8.2"/>
<circle cx="1928.8" cy="383.0" r="8.2"/>
<circle cx="1892.8" cy="408.9" r="8.2"/>
<circle cx="1913.4" cy="401.8" r="8.2"/>
<circle cx="1929.1" cy="400.3" r="8.2"/>
<circle cx="1914.1" cy="410.3" r="8.2"/>
<circle cx="2009.9" cy="427.8" r="8.2"/>
<circle cx="1728.0" cy="484.8" r="8.2"/>
<circle cx="1744.3" cy="473.7" r="8.2"/>
<circle cx="1740.4" cy="488.7" r="8.2"/>
<circle cx="1745.6" cy="501.1" r="8.2"/>
<circle cx="1271.0" cy="203.3" r="8.2"/>
</g>
<rect x="1210.60" y="60.60" width="839.60" height="674.60" fill="none" stroke="#cdced1" stroke-width="3.8"/>
<text transform="translate(1247.00 780.20) scale(1 1.05)" font-size="41.6" text-anchor="middle">0.0</text>
<text transform="translate(1400.72 780.20) scale(1 1.05)" font-size="41.6" text-anchor="middle">0.2</text>
<text transform="translate(1554.44 780.20) scale(1 1.05)" font-size="41.6" text-anchor="middle">0.4</text>
<text transform="translate(1708.16 780.20) scale(1 1.05)" font-size="41.6" text-anchor="middle">0.6</text>
<text transform="translate(1861.88 780.20) scale(1 1.05)" font-size="41.6" text-anchor="middle">0.8</text>
<text transform="translate(2015.60 780.20) scale(1 1.05)" font-size="41.6" text-anchor="middle">1.0</text>
<text transform="translate(1196.60 157.30) scale(1 1.05)" font-size="41.6" text-anchor="end">15.6</text>
<text transform="translate(1196.60 322.17) scale(1 1.05)" font-size="41.6" text-anchor="end">15.8</text>
<text transform="translate(1196.60 487.03) scale(1 1.05)" font-size="41.6" text-anchor="end">16.0</text>
<text transform="translate(1196.60 651.90) scale(1 1.05)" font-size="41.6" text-anchor="end">16.2</text>
<text x="1630.80" y="834.20" font-size="41.6" text-anchor="middle">phase</text>
<text x="1090.40" y="398.00" font-size="41.6" text-anchor="middle" transform="rotate(-90 1090.40 398.00)">magnitude</text>
<text x="1629.00" y="36.20" font-size="49.6" text-anchor="middle">Phased Data</text>
<text x="1225.80" y="715.20" font-size="41.6" text-anchor="start">Period = 2.58 hours</text>
</g></svg>
</body></html>
